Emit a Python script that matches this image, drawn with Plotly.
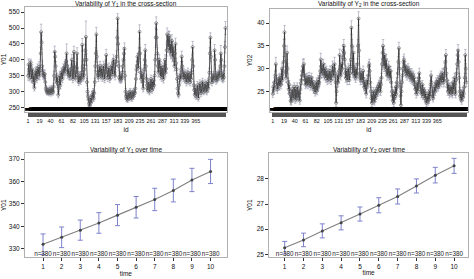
import plotly.graph_objects as go

# ---------------- data ----------------
y1_id_mean = [
350,385,372,345,380,392,360,340,370,355,330,348,312,335,360,352,365,340,372,355,
362,378,350,368,420,487,455,380,360,352,356,348,355,330,310,305,300,298,304,300,
296,302,308,300,295,305,310,302,298,315,350,425,410,380,340,330,345,325,290,310,
335,350,320,345,360,355,340,365,372,360,378,365,385,395,420,380,355,370,360,350,
352,348,360,372,400,365,340,355,425,380,350,345,362,375,420,360,340,330,345,338,
350,335,342,360,447,380,345,352,370,400,430,472,400,330,300,285,275,262,255,270,
280,265,275,290,285,300,278,295,330,380,420,480,410,360,352,345,370,362,380,355,
350,372,360,345,365,380,358,340,362,385,415,370,352,345,360,375,355,340,350,370,
365,380,355,390,400,372,360,350,385,395,410,470,530,450,380,345,340,350,338,345,
342,360,380,400,420,435,350,300,285,278,290,275,282,295,288,280,300,292,285,278,
290,298,285,292,300,295,310,340,370,380,410,395,375,420,488,420,360,340,350,355,
330,310,345,370,400,430,380,340,320,310,305,330,315,300,325,310,340,320,305,330,
315,335,320,350,400,470,515,470,420,380,360,390,400,370,350,380,365,345,360,375,
340,355,380,400,360,372,430,480,455,440,470,475,430,450,420,445,460,410,440,425,
400,380,420,450,390,370,340,310,295,290,320,345,350,340,370,410,380,355,345,360,
350,340,355,345,330,352,340,360,335,350,345,330,355,340,360,400,440,380,320,305,
290,310,300,285,295,320,305,280,300,315,325,310,295,305,320,330,310,300,315,305,
325,310,320,300,315,330,310,325,360,420,470,410,340,330,345,338,350,342,430,400,
345,335,350,340,345,355,348,360,350,380,420,400,345,350,340,355,345,380,440,500]

y1_id_err = [
14,18,15,12,16,10,14,12,15,13,12,14,10,12,15,13,14,12,15,13,
14,16,13,15,20,25,22,16,14,13,14,12,13,12,10,10,9,9,10,9,
9,10,10,9,9,10,10,9,9,11,14,18,16,15,13,12,13,12,10,11,
12,14,11,13,14,13,12,14,15,14,15,14,16,17,30,16,13,14,14,13,
13,12,14,15,17,14,12,13,18,15,13,12,14,15,18,14,12,11,13,12,
13,12,12,14,20,15,12,13,15,17,19,50,18,12,10,10,9,9,8,9,
10,9,9,10,10,10,9,10,12,15,18,22,18,14,13,13,14,14,15,13,
13,14,14,13,14,15,13,12,14,15,18,14,13,13,14,15,13,12,13,14,
14,15,13,15,16,14,14,13,15,16,18,22,15,18,15,13,12,13,12,13,
12,14,15,16,18,18,13,10,9,9,10,9,9,10,9,9,10,10,9,9,
10,10,9,10,10,10,11,13,15,15,10,16,15,18,22,18,14,12,13,13,
12,11,13,14,16,18,15,12,11,11,10,12,11,10,12,11,12,11,10,12,
11,12,11,13,16,30,20,25,18,15,14,15,16,14,13,15,14,13,14,15,
13,13,15,16,14,14,18,20,18,17,20,15,18,18,17,18,19,16,18,17,
16,15,17,18,15,14,12,11,10,10,12,13,13,13,25,17,15,13,13,14,
13,13,14,13,12,14,13,14,12,13,13,12,14,13,14,16,18,15,12,11,
10,11,10,10,10,12,11,10,10,11,12,11,10,11,12,12,11,10,11,11,
12,11,12,10,11,12,11,12,14,18,15,16,13,12,13,12,13,13,18,16,
13,12,13,12,13,13,13,14,13,15,25,16,13,13,12,13,13,15,18,20]

y2_id_mean = [
24.5,26.0,25.2,27.0,26.5,28.5,31.0,27.5,26.0,25.5,27.0,26.5,27.8,26.2,28.0,27.2,26.5,28.5,30.0,27.5,
29.0,31.5,35.0,38.0,33.0,29.5,28.0,30.5,33.5,30.0,27.0,25.5,26.5,24.5,25.0,23.0,22.8,24.0,25.5,24.2,
23.5,25.0,26.0,24.5,23.2,25.5,24.8,23.5,26.0,24.0,23.8,25.2,24.5,23.0,25.5,26.8,27.5,28.5,29.5,30.5,
29.0,31.0,28.5,27.5,26.5,27.8,26.8,28.0,27.2,26.5,27.5,28.2,26.8,27.5,26.2,27.0,28.0,26.5,27.2,26.0,
25.5,26.5,25.8,24.8,26.2,25.5,27.0,25.2,26.0,27.5,26.5,27.0,28.0,29.5,32.0,30.5,29.0,30.0,29.5,31.0,
29.0,28.5,30.0,29.2,28.0,29.5,28.5,27.5,29.0,28.2,27.8,28.8,29.5,28.0,27.5,28.5,29.0,30.5,29.5,28.5,
30.0,31.0,29.0,27.0,22.5,25.0,27.5,28.5,27.0,28.0,29.5,33.0,30.0,28.5,29.5,31.0,30.0,32.5,34.0,35.0,
33.5,32.0,29.0,28.0,29.5,28.5,27.5,29.0,30.0,28.2,27.5,29.0,30.5,32.0,39.0,35.0,30.0,29.0,33.5,29.5,
28.5,29.5,28.0,30.0,29.0,28.5,31.0,35.0,41.0,34.0,29.0,28.0,27.5,29.0,28.5,27.5,28.0,29.5,27.0,26.0,
27.0,25.5,26.5,24.5,26.0,27.5,26.5,28.5,30.5,31.0,29.5,27.0,25.0,23.5,22.5,24.0,23.0,25.0,24.0,22.8,
24.5,23.5,25.0,24.2,25.5,24.8,26.0,25.2,26.5,25.8,27.0,25.0,26.5,28.0,31.0,33.5,35.0,32.0,30.5,33.0,
31.5,30.0,32.0,29.5,28.5,30.0,29.0,30.5,28.5,29.5,28.0,29.5,27.0,25.0,24.0,23.0,24.5,22.5,23.5,25.0,
24.0,26.0,24.5,27.0,26.0,29.0,31.5,34.5,30.0,26.5,24.0,22.0,25.0,27.0,28.5,30.0,31.5,32.0,30.5,29.5,
30.5,29.0,29.8,28.5,29.5,30.0,28.8,29.5,28.2,29.0,28.5,27.8,29.0,28.0,27.5,28.5,27.2,28.0,26.5,25.5,
26.0,24.5,25.5,27.0,25.0,26.5,28.0,29.0,27.0,25.5,26.0,24.5,25.2,26.5,24.0,25.5,24.8,25.0,23.5,24.5,
23.0,22.5,24.0,23.5,22.8,24.5,23.2,25.0,24.0,26.5,28.5,27.0,25.0,24.0,23.5,24.5,25.5,26.0,25.0,26.5,
27.0,25.8,26.5,27.5,26.0,27.2,26.5,28.0,27.5,28.5,27.0,28.0,29.0,27.5,28.2,27.0,28.5,30.0,31.5,33.0,
29.0,27.5,26.0,25.0,26.5,25.5,24.5,26.0,25.2,24.8,26.0,25.0,24.5,27.0,25.5,26.5,28.0,25.0,24.5,27.5,
29.0,31.0,33.0,34.0,31.5,28.0,25.0,24.0,23.5,24.5,23.0,24.2,25.0,23.8,24.5,26.0,28.0,33.0,30.0,27.0]

y2_id_err = [
0.8,1.0,0.9,1.0,0.9,1.0,1.5,1.0,0.9,0.9,1.0,0.9,1.0,0.9,1.0,1.0,0.9,1.0,1.2,1.0,
1.0,1.2,1.4,1.5,1.3,1.0,1.0,1.1,1.5,1.1,0.9,0.9,0.9,0.8,0.9,0.8,0.8,0.8,0.9,0.8,
0.8,0.9,0.9,0.8,0.8,0.9,0.8,0.8,0.9,0.8,0.8,0.9,0.8,0.8,0.9,0.9,1.0,1.0,1.1,1.6,
1.0,1.2,1.0,1.0,0.9,1.0,0.9,1.0,1.0,0.9,1.0,1.0,0.9,1.0,0.9,1.0,1.0,0.9,1.0,0.9,
0.9,0.9,0.9,0.8,0.9,0.9,1.0,0.9,0.9,1.0,0.9,1.0,1.0,1.1,1.4,1.1,1.0,1.1,1.0,1.1,
1.0,1.0,1.1,1.0,1.0,1.1,1.0,1.0,1.0,1.0,1.0,1.0,1.1,1.0,1.0,1.0,1.0,1.2,1.1,1.0,
1.1,1.5,1.0,1.0,0.8,0.9,1.0,1.0,1.0,1.0,1.1,1.3,1.1,1.0,1.1,1.2,1.1,1.2,1.3,1.4,
1.3,1.2,1.0,1.0,1.1,1.0,1.0,1.0,1.1,1.0,1.0,1.0,1.1,1.2,1.5,1.4,1.1,1.0,1.3,1.1,
1.0,1.1,1.0,1.1,1.0,1.0,1.2,1.4,1.5,1.3,1.0,1.0,1.0,1.0,1.0,1.0,1.0,1.1,1.0,0.9,
1.0,0.9,0.9,0.9,0.9,1.0,0.9,1.0,1.1,1.1,1.0,1.0,0.9,0.8,0.8,0.8,0.8,0.9,0.8,0.8,
0.9,0.8,0.9,0.9,0.9,0.9,0.9,0.9,1.0,0.9,1.0,0.9,0.9,1.0,1.2,1.3,1.4,1.2,1.1,1.3,
1.2,1.1,1.2,1.0,1.0,1.1,1.0,1.1,1.0,1.0,1.0,1.0,1.0,0.9,0.9,0.8,0.9,0.8,0.8,0.9,
0.8,0.9,0.9,1.0,0.9,1.0,1.2,1.3,1.1,1.0,0.8,0.8,0.9,1.0,1.0,1.1,1.2,1.2,1.1,1.0,
1.1,1.0,1.0,1.0,1.0,1.1,1.0,1.0,1.0,1.0,1.0,1.0,1.0,1.0,1.0,1.0,1.0,1.0,0.9,0.9,
0.9,0.9,0.9,1.0,0.9,0.9,1.0,1.1,1.0,0.9,0.9,0.9,0.9,0.9,0.8,0.9,0.9,0.9,0.8,0.9,
0.8,0.8,0.9,0.8,0.8,0.9,0.8,0.9,0.9,0.9,1.0,1.0,0.9,0.9,0.8,0.9,0.9,0.9,0.9,0.9,
1.0,0.9,0.9,1.0,0.9,1.0,0.9,1.0,1.0,1.0,1.0,1.0,1.0,1.0,1.0,1.0,1.0,1.1,1.2,1.2,
1.0,1.0,0.9,0.9,0.9,0.9,0.9,0.9,0.9,0.9,0.9,0.9,0.9,1.0,0.9,0.9,1.0,0.9,0.9,1.0,
1.0,1.1,1.2,1.3,1.1,1.0,0.9,0.9,0.8,0.9,0.8,0.9,0.9,0.8,0.9,0.9,1.0,1.2,1.1,1.0]

id_tick_labels = ["1","19","40","61","82","105","131","157","183","209",
                  "235","261","287","313","339","365"]
n_per_id = "n=10"

time_points = [1, 2, 3, 4, 5, 6, 7, 8, 9, 10]
y1_time_mean = [332.0, 335.1, 338.3, 341.5, 345.0, 348.5, 352.0, 356.0, 360.7, 364.5]
y1_time_err = [4.6, 4.6, 4.5, 4.6, 4.7, 4.8, 5.0, 5.1, 5.2, 5.4]
y2_time_mean = [25.26, 25.57, 25.93, 26.25, 26.60, 26.95, 27.30, 27.72, 28.15, 28.52]
y2_time_err = [0.25, 0.27, 0.28, 0.28, 0.28, 0.30, 0.30, 0.28, 0.31, 0.30]
n_per_time = "n=380"

# ---------------- figure ----------------
FONT = "Liberation Sans Narrow, Liberation Sans, Arial, sans-serif"
FS = 6.5
n_ids = len(y1_id_mean)
ids_idx = list(range(n_ids))
lab_at = {int(round(k * 21.5)): lab for k, lab in enumerate(id_tick_labels)}
id_ticktext = [lab_at.get(i, "") for i in ids_idx]

fig = go.Figure()

def cs_panel(mean, err, xa, ya, nlevel):
    fig.add_trace(go.Scatter(
        x=ids_idx, y=mean, xaxis=xa, yaxis=ya, mode="lines+markers",
        line=dict(color="#2a2a2a", width=0.8),
        marker=dict(symbol="circle-open", size=3, color="#5a5a5a", line=dict(width=0.6)),
        error_y=dict(type="data", array=err, color="#85869f", thickness=0.5, width=1.2),
        showlegend=False, hoverinfo="skip"))
    fig.add_trace(go.Scatter(
        x=ids_idx, y=[nlevel] * n_ids, xaxis=xa, yaxis=ya, mode="text",
        text=[n_per_id] * n_ids, textfont=dict(family=FONT, size=4.5, color="#000"),
        showlegend=False, hoverinfo="skip"))

def time_panel(mean, err, xa, ya, nlevel):
    fig.add_trace(go.Scatter(
        x=time_points, y=mean, xaxis=xa, yaxis=ya, mode="lines+markers",
        line=dict(color="#808080", width=1.1),
        marker=dict(symbol="circle", size=3, color="#444"),
        error_y=dict(type="data", array=err, color="#7d82cc", thickness=1, width=2.5),
        showlegend=False, hoverinfo="skip"))
    fig.add_trace(go.Scatter(
        x=time_points, y=[nlevel] * len(time_points), xaxis=xa, yaxis=ya, mode="text",
        text=[n_per_time] * len(time_points), textfont=dict(family=FONT, size=6.3, color="#222"),
        showlegend=False, hoverinfo="skip"))

cs_panel(y1_id_mean, y1_id_err, "x", "y", 243)
cs_panel(y2_id_mean, y2_id_err, "x2", "y2", 21.0)
time_panel(y1_time_mean, y1_time_err, "x3", "y3", 327.6)
time_panel(y2_time_mean, y2_time_err, "x4", "y4", 24.99)

axfont = dict(family=FONT, size=FS, color="#111")
common = dict(showgrid=False, zeroline=False, showline=True, mirror=True,
              linecolor="#b0b0b0", linewidth=1, ticks="outside", tickcolor="#333",
              ticklen=3, tickwidth=0.8, tickfont=axfont)
idx_axis = dict(common, tickmode="array", tickvals=ids_idx, ticktext=id_ticktext,
                tickangle=0, ticklen=4, tickcolor="#555", tickwidth=0.5,
                tickfont=dict(family=FONT, size=5.4, color="#111"),
                range=[-6, n_ids + 2])

def ttl(t, s):
    return dict(text=t, font=dict(family=FONT, size=FS, color="#111"), standoff=s)

def sub(t, x, ypix):
    return dict(text=t, x=x, y=1 - ypix / 279, xref="paper", yref="paper",
                xanchor="center", yanchor="middle", showarrow=False,
                font=dict(family=FONT, size=FS, color="#111"))

fig.update_layout(
    width=474, height=279, margin=dict(l=0, r=0, t=0, b=0),
    paper_bgcolor="white", plot_bgcolor="white",
    xaxis=dict(idx_axis, domain=[0.0527, 0.479], anchor="y", title=ttl("id", 3)),
    yaxis=dict(common, domain=[0.5986, 0.9749], anchor="x", range=[236, 566],
               tickvals=[250, 300, 350, 400, 450, 500, 550], title=ttl("Y01", 3)),
    xaxis2=dict(idx_axis, domain=[0.569, 0.987], anchor="y2", title=ttl("id", 3)),
    yaxis2=dict(common, domain=[0.5986, 0.9677], anchor="x2", range=[20.5, 43.1],
                tickvals=[25, 30, 35, 40], title=ttl("Y02", 3)),
    xaxis3=dict(common, domain=[0.0527, 0.478], anchor="y3", range=[0.03, 10.86],
                tickvals=time_points, title=ttl("time", 1)),
    yaxis3=dict(common, domain=[0.078, 0.4505], anchor="x3", range=[326.2, 372.6],
                tickvals=[330, 340, 350, 360, 370], title=ttl("Y01", 3)),
    xaxis4=dict(common, domain=[0.568, 0.987], anchor="y4", range=[0.18, 10.73],
                tickvals=time_points, title=ttl("time", 1)),
    yaxis4=dict(common, domain=[0.078, 0.4505], anchor="x4", range=[24.88, 29.02],
                tickvals=[25, 26, 27, 28], title=ttl("Y01", 3)),
    annotations=[
        sub("Variability of Y<sub>1</sub> in the cross-section", 0.266, 4),
        sub("Variability of Y<sub>2</sub> in the cross-section", 0.778, 4),
        sub("Variability of Y<sub>1</sub> over time", 0.266, 150),
        sub("Variability of Y<sub>2</sub> over time", 0.778, 150),
    ],
)

fig.write_html("out.html")
